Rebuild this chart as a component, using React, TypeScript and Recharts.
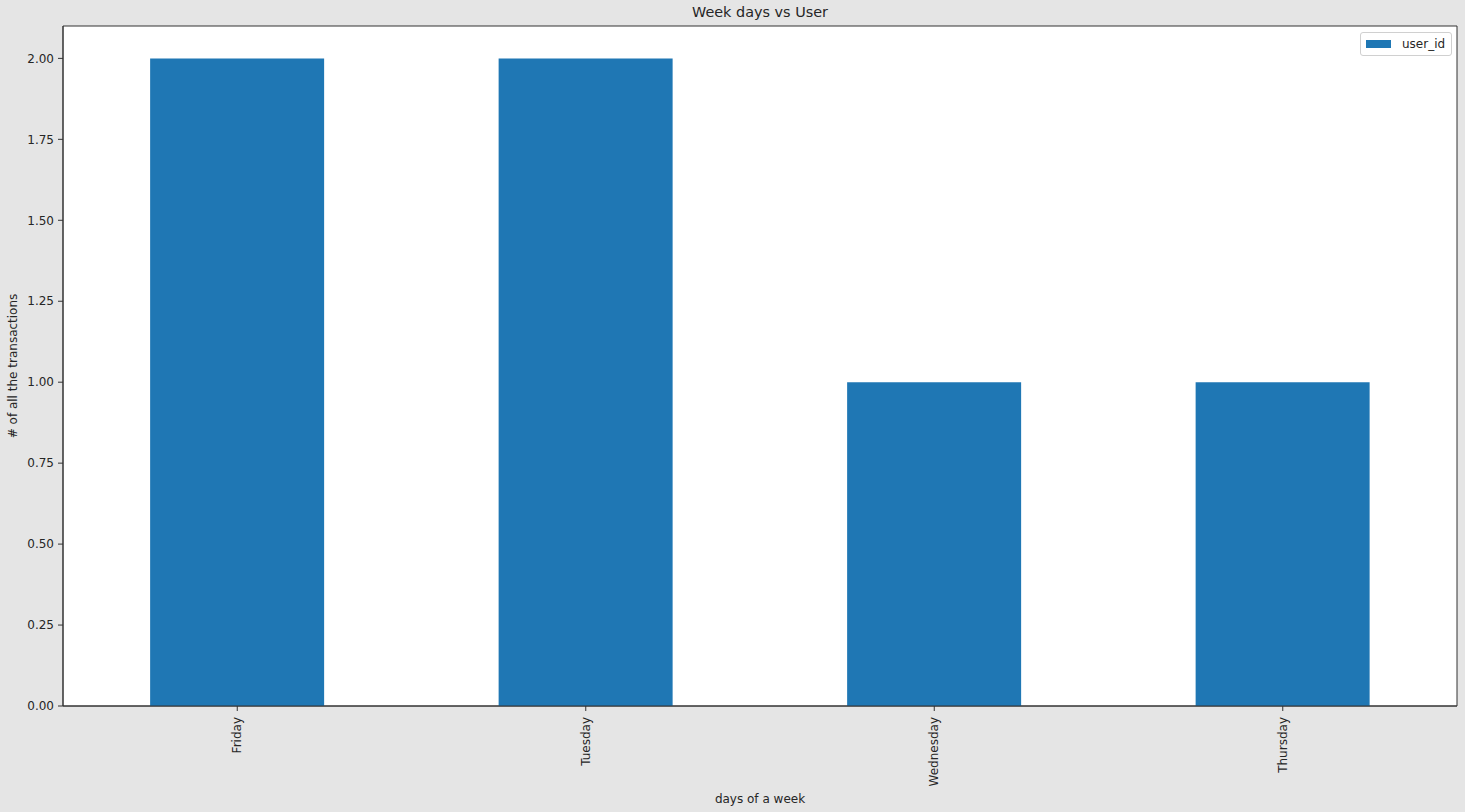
import React from 'react';
import {
    BarChart,
    Bar,
    XAxis,
    YAxis,
    CartesianGrid
} from 'recharts';

const days = ['Friday', 'Tuesday', 'Wednesday', 'Thursday'];
const userIdCounts = [2, 2, 1, 1];
const yTicks = [0, 0.25, 0.5, 0.75, 1.0, 1.25, 1.5, 1.75, 2.0];

const FONT = '"DejaVu Sans", sans-serif';
const TEXT = '#262626';
const AXIS = '#333333';
const BLUE = '#1f77b4';

const data = days.map((d, i) => ({ day: d, user_id: userIdCounts[i] }));

// rotated category labels, like matplotlib's rot=90
const DayTick = (props: any) => {
    const { x, y, payload } = props;
    return (
        <text
            x={x}
            y={y}
            transform={`rotate(-90 ${x} ${y})`}
            textAnchor="end"
            dominantBaseline="central"
            fontFamily={FONT}
            fontSize={12}
            fill={TEXT}
        >
            {payload.value}
        </text>
    );
};

// frame around the plot area (matplotlib spines)
const frameRows = ({ offset }: any) => [offset.top, offset.top + offset.height];
const frameCols = ({ offset }: any) => [offset.left, offset.left + offset.width];

const App: React.FC = () => {
    return (
        <div style={{ position: 'absolute', left: 0, top: 0, width: 1465, height: 812, background: '#e5e5e5', overflow: 'hidden' }}>
            <div style={{
                position: 'absolute',
                left: 63,
                width: 1394,
                top: 4,
                textAlign: 'center',
                fontFamily: FONT,
                fontSize: 14.4,
                color: TEXT
            }}>
                Week days vs User
            </div>
            <BarChart
                width={1465}
                height={812}
                data={data}
                barCategoryGap="25%"
                margin={{ top: 26, right: 8, left: 0, bottom: 0 }}
            >
                <CartesianGrid
                    fill="#ffffff"
                    stroke={AXIS}
                    strokeWidth={1}
                    horizontalCoordinatesGenerator={frameRows}
                    verticalCoordinatesGenerator={frameCols}
                />
                <XAxis
                    dataKey="day"
                    height={106}
                    stroke={AXIS}
                    tickSize={5}
                    tickMargin={6}
                    tick={<DayTick />}
                    interval={0}
                    label={{ value: 'days of a week', position: 'insideBottom', offset: 9, fill: TEXT, fontFamily: FONT, fontSize: 12 }}
                />
                <YAxis
                    width={63}
                    domain={[0, 2.1]}
                    ticks={yTicks}
                    allowDataOverflow
                    stroke={AXIS}
                    tickSize={5}
                    tickMargin={4}
                    tickFormatter={(v: number) => v.toFixed(2)}
                    tick={{ fill: TEXT, fontFamily: FONT, fontSize: 12 }}
                    label={{ value: '# of all the transactions', angle: -90, position: 'insideLeft', offset: 13, fill: TEXT, fontFamily: FONT, fontSize: 12, style: { textAnchor: 'middle' } }}
                />
                <Bar dataKey="user_id" name="user_id" fill={BLUE} isAnimationActive={false} />
            </BarChart>
            <div style={{
                position: 'absolute',
                left: 1360,
                top: 32,
                width: 92,
                height: 24,
                boxSizing: 'border-box',
                display: 'flex',
                alignItems: 'center',
                border: '1px solid #d0d0d0',
                borderRadius: 3,
                background: 'rgba(255,255,255,0.8)',
                fontFamily: FONT,
                fontSize: 12,
                color: TEXT
            }}>
                <span style={{ display: 'inline-block', width: 25, height: 8, background: BLUE, marginLeft: 5, marginRight: 11 }} />
                <span>user_id</span>
            </div>
        </div>
    );
};

export default App;
